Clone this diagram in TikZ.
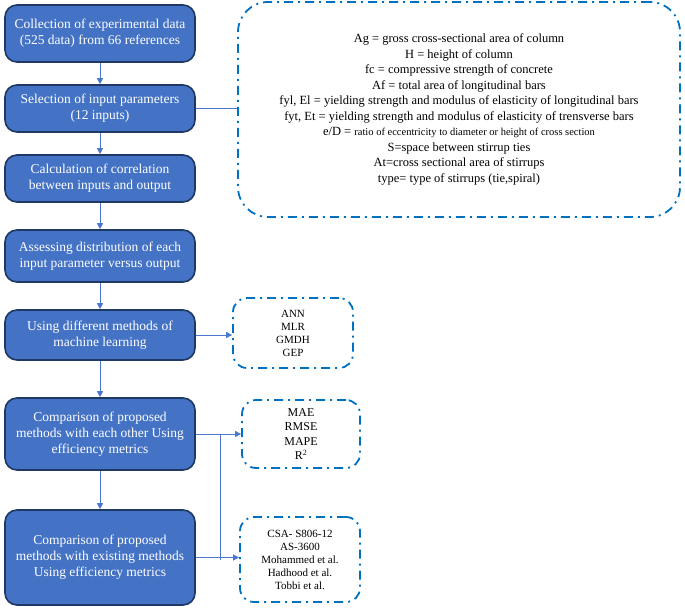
\documentclass[tikz,border=0pt]{standalone}
\usepackage{fontspec}
\setmainfont{Liberation Serif}
\usetikzlibrary{arrows.meta}
\definecolor{bfill}{HTML}{4472C4}
\definecolor{bdraw}{HTML}{1F3864}
\definecolor{dd}{HTML}{0070C0}
\definecolor{ar}{HTML}{4A78CC}
\begin{document}
\begin{tikzpicture}[x=1pt,y=-1pt,
 stepbox/.style={draw=bdraw,line width=1.6pt,fill=bfill,rounded corners=12pt,text=white,align=center,font=\fontsize{13.5}{16}\selectfont},
 note/.style={draw=dd,line width=1.8pt,dash pattern=on 9pt off 5pt on 2pt off 5pt,rounded corners=14pt,align=center,font=\fontsize{12.5}{15.5}\selectfont},
 arr/.style={draw=ar,line width=0.9pt,-{Triangle[length=6pt,width=6pt]}}]
\useasboundingbox (0,0) rectangle (685,610);
\node[stepbox,minimum width=190,minimum height=57] (b1) at (100,33.5) {Collection of experimental data\\(525 data) from 66 references};
\node[stepbox,minimum width=190,minimum height=47] (b2) at (100,108.5) {Selection of input parameters\\(12 inputs)};
\node[stepbox,minimum width=190,minimum height=47] (b3) at (100,178.5) {Calculation of correlation\\between inputs and output};
\node[stepbox,minimum width=190,minimum height=52] (b4) at (100,256) {Assessing distribution of each\\input parameter versus output};
\node[stepbox,minimum width=190,minimum height=50] (b5) at (100,335) {Using different methods of\\machine learning};
\node[stepbox,minimum width=190,minimum height=72] (b6) at (100,434) {Comparison of proposed\\methods with each other Using\\efficiency metrics};
\node[stepbox,minimum width=190,minimum height=95] (b7) at (100,557.5) {Comparison of proposed\\methods with existing methods\\Using efficiency metrics};
\node[note,minimum width=442,minimum height=215,rounded corners=30pt] (n1) at (459,109.5) {Ag = gross cross-sectional area of column\\H = height of column\\fc = compressive strength of concrete\\Af = total area of longitudinal bars\\fyl, El = yielding strength and modulus of elasticity of longitudinal bars\\fyt, Et = yielding strength and modulus of elasticity of trensverse bars\\e/D = {\fontsize{10.5}{15.5}\selectfont ratio of eccentricity to diameter or height of cross section}\\S=space between stirrup ties\\At=cross sectional area of stirrups\\type= type of stirrups (tie,spiral)};
\node[note,minimum width=120,minimum height=70,font=\fontsize{11}{13}\selectfont] (n2) at (293,333) {ANN\\MLR\\GMDH\\GEP};
\node[note,minimum width=118,minimum height=68,font=\fontsize{12}{14.5}\selectfont] (n3) at (301,434) {MAE\\RMSE\\MAPE\\R\textsuperscript{2}};
\node[note,minimum width=120,minimum height=85,font=\fontsize{11}{13}\selectfont] (n4) at (300,559.5) {CSA- S806-12\\AS-3600\\Mohammed et al.\\Hadhood et al.\\Tobbi et al.};
\foreach \a/\b in {b1/b2,b2/b3,b3/b4,b4/b5,b5/b6,b6/b7} \draw[arr] (\a) -- (\b);
\draw[draw=ar,line width=0.9pt] (b2.east) -- (b2.east -| n1.west);
\draw[arr] (b5.east) -- (b5.east -| n2.west);
\draw[arr] (b6.east) -- (b6.east -| n3.west);
\coordinate (j1) at (220,434);
\draw[draw=ar,line width=0.9pt] (j1) -- (220,559.5);
\draw[arr] (b7.east) -- (b7.east -| n4.west);
\end{tikzpicture}
\end{document}
